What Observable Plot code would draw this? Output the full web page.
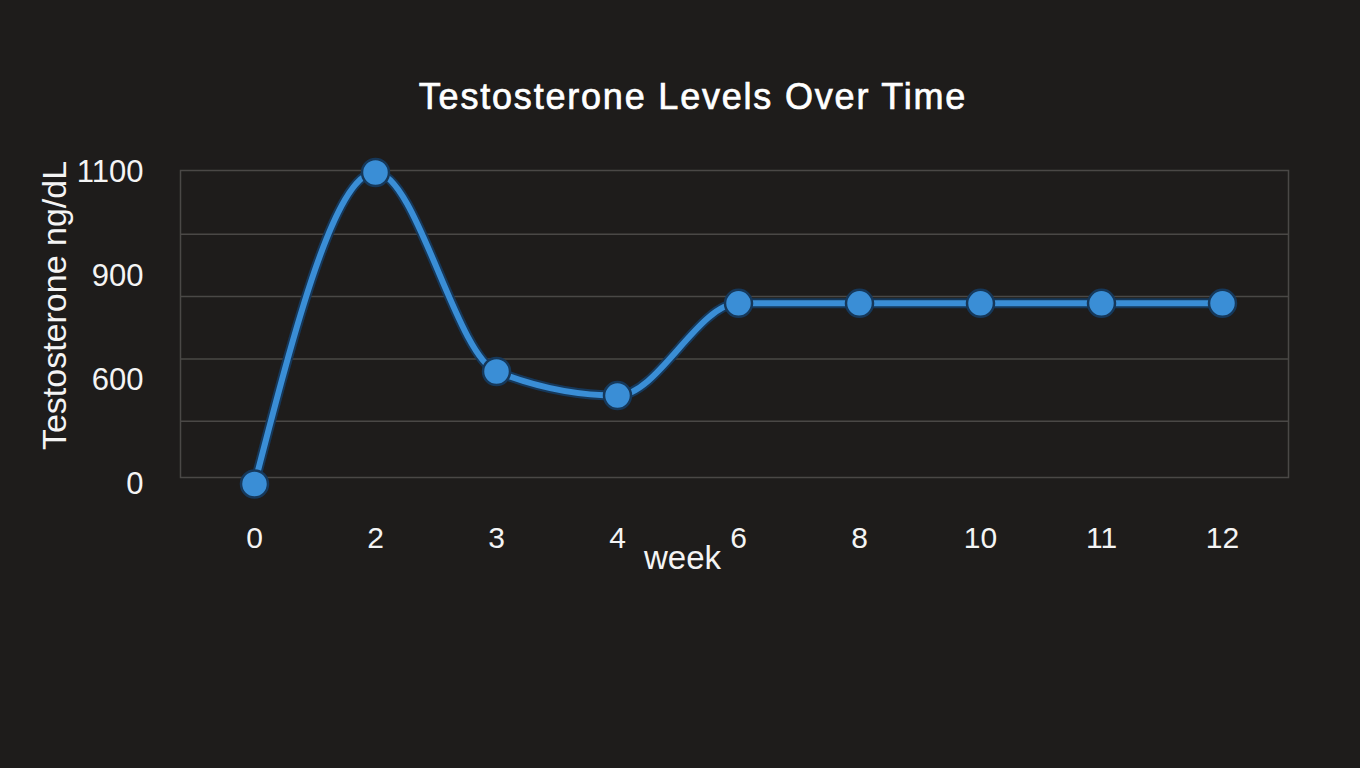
<!DOCTYPE html>
<html>
<head>
<meta charset="utf-8">
<script src="https://cdn.jsdelivr.net/npm/d3@7"></script>
<script src="https://cdn.jsdelivr.net/npm/@observablehq/plot@0.6"></script>
<style>
  html, body { margin: 0; padding: 0; background: #1e1c1b; }
  body { width: 1360px; height: 768px; overflow: hidden; font-family: "Liberation Sans", Arial, sans-serif; color: #fff; }
  #title { height: 130px; box-sizing: border-box; padding-top: 78px; padding-left: 26px; text-align: center;
           font-family: "Liberation Sans", Arial, sans-serif; font-weight: 400; font-size: 36px; line-height: 38px;
           letter-spacing: 1.8px; color: #fff; -webkit-text-stroke: 0.7px #fff; }
</style>
</head>
<body>
<div id="title">Testosterone Levels Over Time</div>
<div id="chart"></div>
<script>
// ---- data ----
const weeks = [0, 2, 3, 4, 6, 8, 10, 11, 12];
const levels = [0, 1100, 625, 511, 822, 822, 822, 822, 822];
const yTicks = [0, 600, 900, 1100];
const titleText = "Testosterone Levels Over Time";
const xLabel = "week";
const yLabel = "Testosterone ng/dL";

// ---- styles ----
const blue = "#3a8ed6";
const outline = "#16385a";
const gridColor = "#4a4846";
const textColor = "#f4f4f4";

const data = weeks.map((w, i) => ({week: w, level: levels[i]}));

// evenly spaced gridlines between the lowest and highest tick levels
const gridMark = (index, scales, values, dims) => {
  const g = d3.create("svg:g");
  const y0 = scales.y(yTicks[0]);
  const y1 = scales.y(yTicks[yTicks.length - 1]);
  const n = 5;
  for (let i = 1; i < n; i++) {
    const y = y0 + (y1 - y0) * i / n;
    g.append("line")
      .attr("x1", dims.marginLeft)
      .attr("x2", dims.width - dims.marginRight)
      .attr("y1", y).attr("y2", y)
      .attr("stroke", gridColor)
      .attr("stroke-width", 1.5);
  }
  return g.node();
};

const chart = Plot.plot({
  width: 1360,
  height: 638,
  marginTop: 40,
  marginBottom: 291,
  marginLeft: 180,
  marginRight: 72,
  style: {background: "transparent", color: textColor, fontFamily: "'Liberation Sans', Arial, sans-serif", fontSize: "30px"},
  x: {type: "point", domain: weeks, padding: 0, insetLeft: 74, insetRight: 66},
  y: {type: "linear", domain: yTicks, insetTop: 2, insetBottom: -6.5},
  marks: [
    Plot.frame({stroke: gridColor, strokeWidth: 1.5}),
    gridMark,
    Plot.line(data, {x: "week", y: "level", curve: "monotone-x", stroke: outline, strokeWidth: 10}),
    Plot.line(data, {x: "week", y: "level", curve: "monotone-x", stroke: blue, strokeWidth: 6}),
    Plot.dot(data, {x: "week", y: "level", r: 13.5, fill: blue, stroke: outline, strokeWidth: 2.5}),
    Plot.axisX({tickSize: 0, tickPadding: 49, fontSize: 30, label: null, fill: textColor, tickFormat: d => String(d)}),
    Plot.axisY({ticks: yTicks, tickSize: 0, tickPadding: 37, fontSize: 31, label: null, fill: textColor, tickFormat: d => String(d)}),
    Plot.text([yLabel], {text: d => d, frameAnchor: "left", textAnchor: "middle", lineAnchor: "middle", rotate: -90, dx: -125, dy: -18.5, fontSize: 34, fill: textColor}),
    Plot.text([xLabel], {text: d => d, frameAnchor: "bottom", textAnchor: "middle", lineAnchor: "middle", dx: -52, dy: 81, fontSize: 33, fill: textColor})
  ]
});
document.getElementById("chart").appendChild(chart);
</script>
</body>
</html>
